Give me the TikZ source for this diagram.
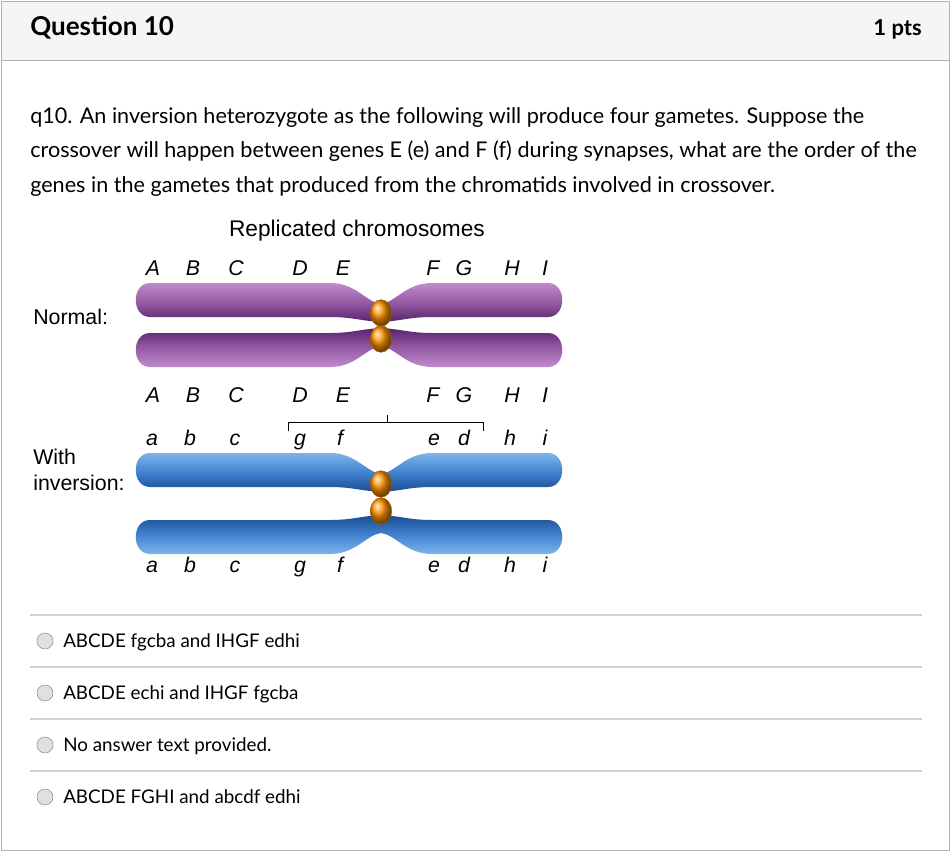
\documentclass[tikz,border=0pt]{standalone}
\usepackage{fontspec}
\usetikzlibrary{shapes.geometric}
\setmainfont{Lato}
\newfontfamily\arialf{Liberation Sans}
\begin{document}
\begin{tikzpicture}[x=0.75pt,y=-0.75pt,
  body/.style={anchor=base west,inner sep=0,font=\fontsize{16.2}{18}\selectfont},
  opt/.style={anchor=base west,inner sep=0,font=\fontsize{14.1}{16}\selectfont},
  gene/.style={anchor=base,inner sep=0,font=\arialf\itshape\fontsize{16}{18}\selectfont},
  lab/.style={anchor=base west,inner sep=0,font=\arialf\fontsize{16}{18}\selectfont},
  radio/.style={circle,draw=black!45,fill=black!12,minimum size=12pt,inner sep=0},
  sep/.style={draw=black!18,line width=0.8pt},
  centro/.style={ellipse,minimum width=16pt,minimum height=20pt,inner sep=0,ball color=orange!85!yellow,draw=orange!70!black,line width=0.3pt}]
\newcommand\chromshape{(150,-17) -- (330,-17) .. controls (356,-17) and (366,2) .. (381,4) .. controls (396,2) and (406,-17) .. (432,-17) -- (548,-17) .. controls (567,-17) and (567,17) .. (548,17) -- (432,17) .. controls (410,17) and (400,21) .. (381,22) .. controls (362,21) and (352,17) .. (330,17) -- (150,17) .. controls (131,17) and (131,-17) .. (150,-17) -- cycle}
\useasboundingbox (0,0) rectangle (951,856);
\fill[black!4] (1,1) rectangle (949,60);
\draw[black!30] (1,1) -- (949,1) (1,60) -- (949,60) (1,1) -- (1,850) -- (949,850) -- (949,1);
\node[anchor=base west,inner sep=0,font=\bfseries\fontsize{19.5}{22}\selectfont] (q) at (30,36) {Question 10};
\node[anchor=base east,inner sep=0,font=\bfseries\fontsize{16.5}{20}\selectfont] (pts) at (922,36) {1 pts};
\node[body] (t1) at (30,124) {q10. An inversion heterozygote as the following will produce four gametes. Suppose the};
\node[body] (t2) at (30,158) {crossover will happen between genes E (e) and F (f) during synapses, what are the order of the};
\node[body] (t3) at (30,192) {genes in the gametes that produced from the chromatids involved in crossover.};
\node[anchor=base,inner sep=0,font=\arialf\fontsize{17}{20}\selectfont] (rc) at (357,236) {Replicated chromosomes};
% chromosomes
\definecolor{pL}{RGB}{190,140,205}\definecolor{pM}{RGB}{150,90,165}\definecolor{pD}{RGB}{85,35,105}
\definecolor{bL}{RGB}{125,180,235}\definecolor{bM}{RGB}{65,130,205}\definecolor{bD}{RGB}{25,75,145}
\begin{scope}[shift={(0,300)}]\shade[top color=pL,bottom color=pD,middle color=pM] \chromshape;\end{scope}
\begin{scope}[shift={(0,350)},yscale=-1]\shade[top color=pD,bottom color=pL,middle color=pM] \chromshape;\end{scope}
\begin{scope}[shift={(0,470)}]\shade[top color=bL,bottom color=bD,middle color=bM] \chromshape;\end{scope}
\begin{scope}[shift={(0,537)},yscale=-1]\shade[top color=bD,bottom color=bL,middle color=bM] \chromshape;\end{scope}
\node[centro] (c1) at (381,313) {};
\node[centro] (c2) at (381,339) {};
\node[centro] (c3) at (381,484) {};
\node[centro] (c4) at (381,511) {};
% gene labels
\foreach \l/\x [count=\i] in {A/153,B/193,C/236,D/300,E/343,F/433,G/464,H/512,I/545}{
  \node[gene] (up\i) at (\x,276) {\l};
  \node[gene] (lo\i) at (\x,402) {\l};}
\foreach \l/\x [count=\i] in {a/152,b/190,c/235,g/300,f/340,e/434,d/464,h/510,i/545}{
  \node[gene] (iu\i) at (\x,445) {\l};
  \node[gene] (il\i) at (\x,572) {\l};}
\coordinate (bl) at (288,431); \coordinate (br) at (483,431);
\draw[line width=0.7pt] (bl) -- (288,422) -- (483,422) -- (br);
\draw[line width=0.7pt] (387,422) -- (387,415);
\node[lab] (normal) at (33,324) {Normal:};
\node[lab] (with) at (33,464) {With};
\node[lab] (inv) at (33,490) {inversion:};
% options
\foreach \y in {615,667,719,771} \draw[sep] (30,\y) -- (922,\y);
\foreach \y/\t [count=\i] in {641/ABCDE fgcba and IHGF edhi,693/ABCDE echi and IHGF fgcba,745/No answer text provided.,797/ABCDE FGHI and abcdf edhi}{
  \node[radio] (r\i) at (45,\y) {};
  \node[opt] (o\i) at (63,\y+6) {\t};}
\end{tikzpicture}
\end{document}
